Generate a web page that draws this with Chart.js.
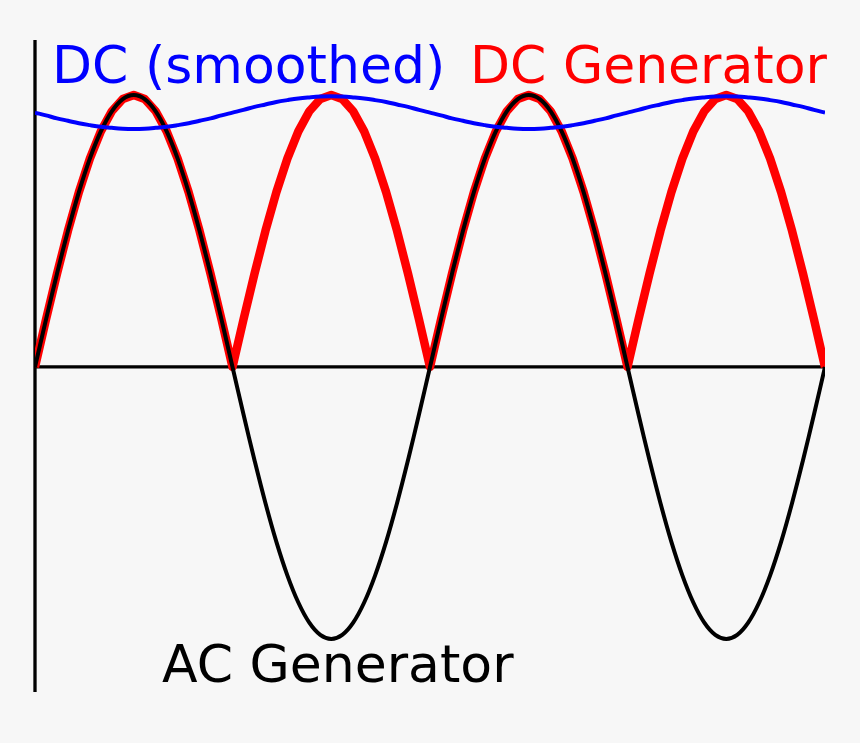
<!DOCTYPE html>
<html>
<head>
<meta charset="utf-8">
<script src="https://cdn.jsdelivr.net/npm/chart.js@4"></script>
<style>
    html, body { margin: 0; padding: 0; background: #f7f7f7; }
    canvas { display: block; }
</style>
</head>
<body>
<canvas id="myChart" width="860" height="743"></canvas>
<script>
// phase of the AC wave in degrees, 10 degree steps over two full cycles
const phase = [];
for (let d = 0; d <= 720; d += 10) phase.push(d);

const acGenerator = [
    0, 0.174, 0.342, 0.5, 0.643, 0.766, 0.866, 0.94, 0.985, 1, 0.985, 0.94, 0.866, 0.766, 0.643, 0.5, 0.342, 0.174,
    0, -0.174, -0.342, -0.5, -0.643, -0.766, -0.866, -0.94, -0.985, -1, -0.985, -0.94, -0.866, -0.766, -0.643, -0.5, -0.342, -0.174,
    0, 0.174, 0.342, 0.5, 0.643, 0.766, 0.866, 0.94, 0.985, 1, 0.985, 0.94, 0.866, 0.766, 0.643, 0.5, 0.342, 0.174,
    0, -0.174, -0.342, -0.5, -0.643, -0.766, -0.866, -0.94, -0.985, -1, -0.985, -0.94, -0.866, -0.766, -0.643, -0.5, -0.342, -0.174,
    0,
];
const dcGenerator = [
    0, 0.174, 0.342, 0.5, 0.643, 0.766, 0.866, 0.94, 0.985, 1, 0.985, 0.94, 0.866, 0.766, 0.643, 0.5, 0.342, 0.174,
    0, 0.174, 0.342, 0.5, 0.643, 0.766, 0.866, 0.94, 0.985, 1, 0.985, 0.94, 0.866, 0.766, 0.643, 0.5, 0.342, 0.174,
    0, 0.174, 0.342, 0.5, 0.643, 0.766, 0.866, 0.94, 0.985, 1, 0.985, 0.94, 0.866, 0.766, 0.643, 0.5, 0.342, 0.174,
    0, 0.174, 0.342, 0.5, 0.643, 0.766, 0.866, 0.94, 0.985, 1, 0.985, 0.94, 0.866, 0.766, 0.643, 0.5, 0.342, 0.174,
    0,
];
const dcSmoothed = [
    0.935, 0.925, 0.914, 0.905, 0.896, 0.889, 0.883, 0.879, 0.876, 0.875, 0.876, 0.879, 0.883, 0.889, 0.896, 0.905, 0.914, 0.925,
    0.935, 0.945, 0.956, 0.965, 0.974, 0.981, 0.987, 0.991, 0.994, 0.995, 0.994, 0.991, 0.987, 0.981, 0.974, 0.965, 0.956, 0.945,
    0.935, 0.925, 0.914, 0.905, 0.896, 0.889, 0.883, 0.879, 0.876, 0.875, 0.876, 0.879, 0.883, 0.889, 0.896, 0.905, 0.914, 0.925,
    0.935, 0.945, 0.956, 0.965, 0.974, 0.981, 0.987, 0.991, 0.994, 0.995, 0.994, 0.991, 0.987, 0.981, 0.974, 0.965, 0.956, 0.945,
    0.935,
];

const labelTexts = ['DC (smoothed)', 'DC Generator', 'AC Generator'];
const labelColors = ['#0000ff', '#ff0000', '#000000'];
const labelPos = [[52, 83], [470, 83], [162, 682]];

const toPoints = (ys) => ys.map((y, i) => ({ x: phase[i], y: y }));

const axesPlugin = {
    id: 'axes',
    beforeDatasetsDraw: (chart) => {
        const { ctx, chartArea, scales } = chart;
        const y0 = scales.y.getPixelForValue(0);
        ctx.save();
        ctx.strokeStyle = '#000';
        ctx.lineWidth = 3.3;
        ctx.beginPath();
        ctx.moveTo(chartArea.left, chartArea.top);
        ctx.lineTo(chartArea.left, chartArea.bottom);
        ctx.moveTo(chartArea.left, y0);
        ctx.lineTo(chartArea.right, y0);
        ctx.stroke();
        ctx.restore();
    },
    afterDraw: (chart) => {
        const ctx = chart.ctx;
        ctx.save();
        ctx.font = '52px "DejaVu Sans"';
        ctx.textBaseline = 'alphabetic';
        ctx.textAlign = 'left';
        labelTexts.forEach((t, i) => {
            ctx.fillStyle = labelColors[i];
            ctx.fillText(t, labelPos[i][0], labelPos[i][1]);
        });
        ctx.restore();
    },
};

const ctx = document.getElementById('myChart').getContext('2d');
const myChart = new Chart(ctx, {
    type: 'line',
    data: {
        datasets: [
            {
                label: 'DC (smoothed)',
                data: toPoints(dcSmoothed),
                borderColor: '#0000ff',
                borderWidth: 4,
                tension: 0.4,
                pointRadius: 0,
                fill: false,
            },
            {
                label: 'AC Generator',
                data: toPoints(acGenerator),
                borderColor: '#000000',
                borderWidth: 4,
                tension: 0.4,
                pointRadius: 0,
                fill: false,
            },
            {
                label: 'DC Generator',
                data: toPoints(dcGenerator),
                borderColor: '#ff0000',
                borderWidth: 8.5,
                tension: 0,
                borderJoinStyle: 'round',
                pointRadius: 0,
                fill: false,
            },
        ],
    },
    options: {
        responsive: false,
        animation: false,
        layout: {
            padding: { left: 35, top: 40, right: 35, bottom: 51 },
        },
        plugins: {
            legend: { display: false },
            title: { display: false },
            tooltip: { enabled: false },
        },
        scales: {
            x: { type: 'linear', min: 0, max: 720, display: false },
            y: { min: -1.195, max: 1.202, display: false },
        },
    },
    plugins: [axesPlugin],
});
</script>
</body>
</html>
